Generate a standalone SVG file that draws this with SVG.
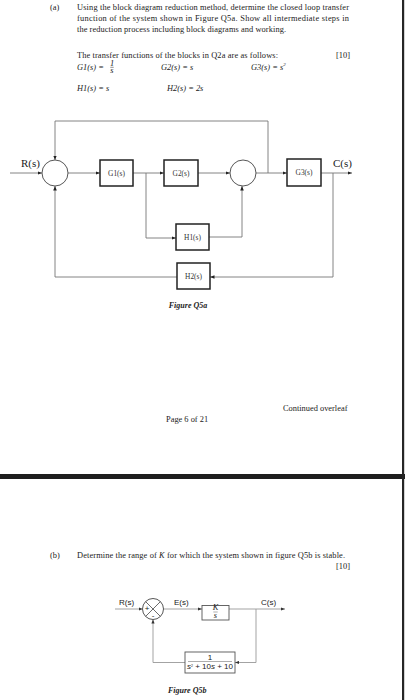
<svg xmlns="http://www.w3.org/2000/svg" width="405" height="700" viewBox="0 0 405 700">
<defs>
<marker id="arr" viewBox="0 0 10 10" refX="10" refY="5" markerWidth="4.5" markerHeight="4.5" orient="auto" markerUnits="userSpaceOnUse">
<path d="M0,1 L10,5 L0,9 z" fill="#222"/>
</marker>
<marker id="arrb" viewBox="0 0 10 10" refX="10" refY="5" markerWidth="4" markerHeight="4" orient="auto" markerUnits="userSpaceOnUse">
<path d="M0,1 L10,5 L0,9 z" fill="#333"/>
</marker>
</defs>
<style>
.t{font-family:"Liberation Serif","Times New Roman",serif;font-size:8.4px;fill:#222}
.m{font-family:"Liberation Serif","Times New Roman",serif;font-size:8.4px;font-style:italic;fill:#222}
.lbl{font-family:"Liberation Serif","Times New Roman",serif;font-size:7.4px;fill:#333}
.big{font-family:"Liberation Serif","Times New Roman",serif;font-size:11px;fill:#222}
.cap{font-family:"Liberation Serif","Times New Roman",serif;font-size:8px;font-style:italic;font-weight:bold;fill:#222}
.sans{font-family:"Liberation Sans",Arial,sans-serif;font-size:8px;fill:#222}
.box{fill:#fff;stroke:#222;stroke-width:1.5}
.boxb{fill:#fff;stroke:#555;stroke-width:0.9}
.sum{fill:#fff;stroke:#444;stroke-width:0.9}
.c{fill:none;stroke:#777;stroke-width:0.9}
.cb{fill:none;stroke:#999;stroke-width:0.9}
</style>
<rect width="405" height="700" fill="#fff"/>
<!-- page borders -->
<rect x="0" y="474" width="405" height="5" fill="#1e1e1e"/>
<rect x="402" y="0" width="2.2" height="700" fill="#262626"/>

<!-- part (a) text -->
<g id="text-a">
<text class="t" x="50" y="10">(a)</text>
<text class="t" x="77" y="10" textLength="272" lengthAdjust="spacing">Using the block diagram reduction method, determine the closed loop transfer</text>
<text class="t" x="77" y="21" textLength="272" lengthAdjust="spacing">function of the system shown in Figure Q5a. Show all intermediate steps in</text>
<text class="t" x="77" y="32" textLength="209" lengthAdjust="spacing">the reduction process including block diagrams and working.</text>
<text class="t" x="77" y="58" textLength="201" lengthAdjust="spacing">The transfer functions of the blocks in Q2a are as follows:</text>
<text class="t" x="336" y="58">[10]</text>
<text class="m" x="77" y="69.5">G1(s) =</text>
<text class="m" x="112" y="65.6" font-size="4" text-anchor="middle">1</text>
<line x1="110.3" y1="67.3" x2="113.7" y2="67.3" stroke="#222" stroke-width="0.5"/>
<text class="m" x="112" y="72.6" font-size="4" text-anchor="middle">s</text>
<text class="m" x="161" y="69.5">G2(s) =  s</text>
<text class="m" x="251" y="69.5">G3(s) = s<tspan font-size="5" dy="-3.5">2</tspan></text>
<text class="m" x="77" y="91">H1(s) = s</text>
<text class="m" x="167" y="91">H2(s) = 2s</text>
</g>

<!-- part (a) connectors -->
<g id="connectors-a">
<line class="c" x1="10" y1="173" x2="42" y2="173" marker-end="url(#arr)"/>
<line class="c" x1="68" y1="173" x2="100" y2="173" marker-end="url(#arr)"/>
<line class="c" x1="133" y1="173" x2="164" y2="173" marker-end="url(#arr)"/>
<polyline class="c" points="146,173 146,238 176,238" marker-end="url(#arr)"/>
<line class="c" x1="198" y1="173" x2="230" y2="173" marker-end="url(#arr)"/>
<polyline class="c" points="209,237 242,237 242,186" marker-end="url(#arr)"/>
<line class="c" x1="256" y1="173" x2="287" y2="173" marker-end="url(#arr)"/>
<polyline class="c" points="268,173 268,121 55,121 55,160" marker-end="url(#arr)"/>
<line class="c" x1="321" y1="173" x2="352" y2="173" marker-end="url(#arr)"/>
<polyline class="c" points="333,173 333,277 210,277" marker-end="url(#arr)"/>
<polyline class="c" points="177,277 55,277 55,186" marker-end="url(#arr)"/>
</g>

<!-- part (a) nodes -->
<g id="sum1"><circle class="sum" cx="55" cy="173" r="13"/></g>
<g id="sum2"><circle class="sum" cx="243" cy="173" r="13"/></g>
<g id="G1"><rect class="box" x="100" y="160" width="33" height="26"/><text class="lbl" x="116.5" y="175.5" text-anchor="middle">G1(s)</text></g>
<g id="G2"><rect class="box" x="164" y="160" width="34" height="26"/><text class="lbl" x="181" y="175.5" text-anchor="middle">G2(s)</text></g>
<g id="G3"><rect class="box" x="287" y="159" width="34" height="27"/><text class="lbl" x="304" y="175" text-anchor="middle">G3(s)</text></g>
<g id="H1"><rect class="box" x="176" y="224" width="33" height="26"/><text class="lbl" x="192.5" y="239.5" text-anchor="middle">H1(s)</text></g>
<g id="H2"><rect class="box" x="177" y="263" width="33" height="26"/><text class="lbl" x="193.5" y="278.5" text-anchor="middle">H2(s)</text></g>
<g id="labels-a">
<text class="big" x="21" y="167">R(s)</text>
<text class="big" x="333" y="167">C(s)</text>
<text class="cap" x="188" y="308" text-anchor="middle">Figure Q5a</text>
</g>

<g id="footer">
<text class="t" x="283" y="411" font-size="7.6">Continued overleaf</text>
<text class="t" x="166" y="422" font-size="7.6">Page 6 of 21</text>
</g>

<!-- part (b) text -->
<g id="text-b">
<text class="t" x="50" y="558">(b)</text>
<text class="t" x="77" y="558" textLength="268" lengthAdjust="spacing">Determine the range of <tspan font-style="italic">K</tspan> for which the system shown in figure Q5b is stable.</text>
<text class="t" x="336" y="569">[10]</text>
</g>

<!-- part (b) connectors -->
<g id="connectors-b">
<line class="cb" x1="115" y1="609" x2="142.5" y2="609" marker-end="url(#arrb)"/>
<line class="cb" x1="163.5" y1="609" x2="202" y2="609" marker-end="url(#arrb)"/>
<line class="cb" x1="229" y1="609" x2="285" y2="609" marker-end="url(#arrb)"/>
<polyline class="cb" points="256,609 256,662.5 235,662.5" marker-end="url(#arrb)"/>
<polyline class="cb" points="185,662.5 153,662.5 153,619.5" marker-end="url(#arrb)"/>
</g>

<g id="sumb">
<circle class="sum" cx="153" cy="609" r="10.5"/>
<line x1="145.6" y1="601.6" x2="160.4" y2="616.4" stroke="#444" stroke-width="0.8"/>
<line x1="160.4" y1="601.6" x2="145.6" y2="616.4" stroke="#444" stroke-width="0.8"/>
<text class="sans" x="147" y="611" font-size="4.5" text-anchor="middle">+</text>
<text class="sans" x="153" y="617.5" font-size="4.5" text-anchor="middle">-</text>
</g>
<g id="Ks">
<rect class="boxb" x="202" y="605.5" width="27" height="14.5"/>
<text class="m" x="215.5" y="610.2" font-size="4.4" text-anchor="middle">K</text>
<line x1="213.3" y1="612" x2="217.7" y2="612" stroke="#333" stroke-width="0.4"/>
<text class="m" x="215.5" y="617.8" font-size="4.4" text-anchor="middle">s</text>
</g>
<g id="Hb">
<rect class="boxb" x="185" y="652" width="50" height="21"/>
<text class="sans" x="210" y="659.5" font-size="5" text-anchor="middle">1</text>
<line x1="188" y1="661.5" x2="232" y2="661.5" stroke="#333" stroke-width="0.4"/>
<text class="sans" x="210" y="668.5" font-size="5" text-anchor="middle"><tspan font-style="italic">s</tspan><tspan font-size="3.5" dy="-2">2</tspan><tspan dy="2"> + 10<tspan font-style="italic">s</tspan> + 10</tspan></text>
</g>
<g id="labels-b">
<text class="sans" x="119" y="605">R(s)</text>
<text class="sans" x="174" y="605">E(s)</text>
<text class="sans" x="261" y="605">C(s)</text>
<text class="cap" x="168" y="693">Figure Q5b</text>
</g>
</svg>
